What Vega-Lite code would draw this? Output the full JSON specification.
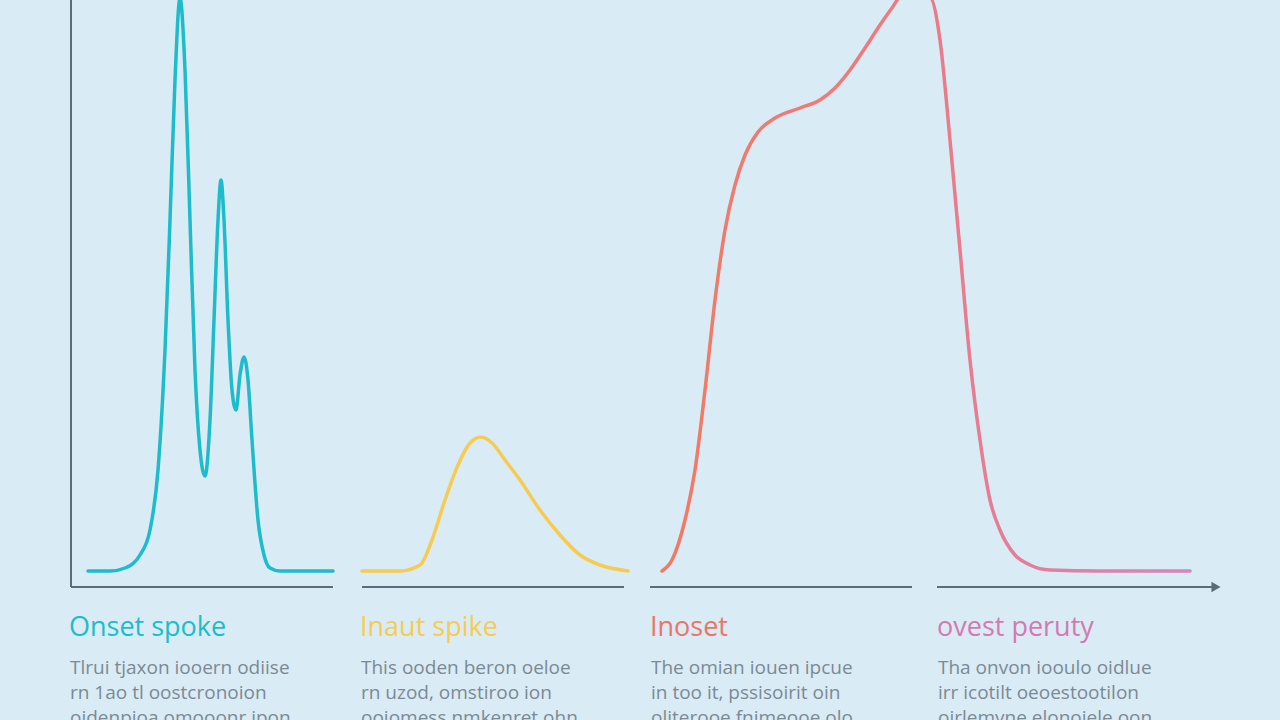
{
  "$schema": "https://vega.github.io/schema/vega-lite/v6.json",
  "autosize": {"type": "none"},
  "width": 1280,
  "height": 720,
  "padding": 0,
  "background": "#d9ebf5",
  "config": {"view": {"stroke": null}},
  "datasets": {
    "curves": [
      {"series": "onset", "x": 88, "y": 149}, {"series": "onset", "x": 110, "y": 149}, {"series": "onset", "x": 125, "y": 152},
      {"series": "onset", "x": 140, "y": 165}, {"series": "onset", "x": 150, "y": 190}, {"series": "onset", "x": 158, "y": 250},
      {"series": "onset", "x": 165, "y": 370}, {"series": "onset", "x": 170, "y": 500}, {"series": "onset", "x": 175, "y": 640},
      {"series": "onset", "x": 180, "y": 722}, {"series": "onset", "x": 185, "y": 650}, {"series": "onset", "x": 190, "y": 500},
      {"series": "onset", "x": 195, "y": 350}, {"series": "onset", "x": 200, "y": 270}, {"series": "onset", "x": 205, "y": 244},
      {"series": "onset", "x": 210, "y": 300}, {"series": "onset", "x": 214, "y": 400}, {"series": "onset", "x": 218, "y": 500},
      {"series": "onset", "x": 221, "y": 540}, {"series": "onset", "x": 224, "y": 500}, {"series": "onset", "x": 228, "y": 400},
      {"series": "onset", "x": 232, "y": 330}, {"series": "onset", "x": 236, "y": 310}, {"series": "onset", "x": 240, "y": 345},
      {"series": "onset", "x": 244, "y": 363}, {"series": "onset", "x": 248, "y": 340}, {"series": "onset", "x": 252, "y": 280},
      {"series": "onset", "x": 258, "y": 200}, {"series": "onset", "x": 264, "y": 165}, {"series": "onset", "x": 270, "y": 152},
      {"series": "onset", "x": 280, "y": 149}, {"series": "onset", "x": 333, "y": 149},
      {"series": "input", "x": 362, "y": 149}, {"series": "input", "x": 400, "y": 149}, {"series": "input", "x": 420, "y": 155},
      {"series": "input", "x": 432, "y": 180}, {"series": "input", "x": 445, "y": 220}, {"series": "input", "x": 458, "y": 255},
      {"series": "input", "x": 470, "y": 277}, {"series": "input", "x": 481, "y": 283}, {"series": "input", "x": 492, "y": 277},
      {"series": "input", "x": 505, "y": 260}, {"series": "input", "x": 520, "y": 240}, {"series": "input", "x": 540, "y": 210},
      {"series": "input", "x": 560, "y": 185}, {"series": "input", "x": 580, "y": 165}, {"series": "input", "x": 600, "y": 155},
      {"series": "input", "x": 628, "y": 149}
    ],
    "inoset": [
      {"x": 662, "y": 149}, {"x": 672, "y": 160}, {"x": 685, "y": 200}, {"x": 695, "y": 250}, {"x": 705, "y": 330},
      {"x": 715, "y": 420}, {"x": 725, "y": 490}, {"x": 735, "y": 535}, {"x": 745, "y": 565}, {"x": 758, "y": 588},
      {"x": 775, "y": 602}, {"x": 800, "y": 612}, {"x": 820, "y": 620}, {"x": 835, "y": 632}, {"x": 850, "y": 650},
      {"x": 865, "y": 672}, {"x": 880, "y": 695}, {"x": 892, "y": 712}, {"x": 900, "y": 722}, {"x": 930, "y": 722},
      {"x": 940, "y": 680}, {"x": 950, "y": 580}, {"x": 960, "y": 470}, {"x": 970, "y": 360}, {"x": 980, "y": 280},
      {"x": 990, "y": 220}, {"x": 1000, "y": 190}, {"x": 1015, "y": 165}, {"x": 1030, "y": 155}, {"x": 1050, "y": 150},
      {"x": 1100, "y": 149}, {"x": 1190, "y": 149}
    ],
    "axes": [
      {"x": 71, "x2": 71, "y": 133, "y2": 720},
      {"x": 71, "x2": 333, "y": 133, "y2": 133},
      {"x": 362, "x2": 624, "y": 133, "y2": 133},
      {"x": 650, "x2": 912, "y": 133, "y2": 133},
      {"x": 937, "x2": 1212, "y": 133, "y2": 133}
    ],
    "labels": [
      {"x": 69, "y": 92, "text": "Onset spoke", "series": "onset", "kind": "title"},
      {"x": 360, "y": 92, "text": "Inaut spike", "series": "input", "kind": "title"},
      {"x": 650, "y": 92, "text": "Inoset", "series": "inoset", "kind": "title"},
      {"x": 937, "y": 92, "text": "ovest peruty", "series": "ovest", "kind": "title"},
      {"x": 70, "y": 52, "text": "Tlrui tjaxon iooern odiise", "series": "desc", "kind": "desc"},
      {"x": 70, "y": 27, "text": "rn 1ao tl oostcronoion", "series": "desc", "kind": "desc"},
      {"x": 70, "y": 2, "text": "oidenpioa omooonr ipon", "series": "desc", "kind": "desc"},
      {"x": 361, "y": 52, "text": "This ooden beron oeloe", "series": "desc", "kind": "desc"},
      {"x": 361, "y": 27, "text": "rn uzod, omstiroo ion", "series": "desc", "kind": "desc"},
      {"x": 361, "y": 2, "text": "ooiomess nmkenret ohn", "series": "desc", "kind": "desc"},
      {"x": 651, "y": 52, "text": "The omian iouen ipcue", "series": "desc", "kind": "desc"},
      {"x": 651, "y": 27, "text": "in too it, pssisoirit oin", "series": "desc", "kind": "desc"},
      {"x": 651, "y": 2, "text": "oliterooe fnimeooe olo", "series": "desc", "kind": "desc"},
      {"x": 938, "y": 52, "text": "Tha onvon iooulo oidlue", "series": "desc", "kind": "desc"},
      {"x": 938, "y": 27, "text": "irr icotilt oeoestootilon", "series": "desc", "kind": "desc"},
      {"x": 938, "y": 2, "text": "oirlemvne elonoiele oon", "series": "desc", "kind": "desc"}
    ]
  },
  "layer": [
    {
      "data": {"name": "axes"},
      "mark": {"type": "rule", "color": "#5d6d78", "strokeWidth": 2},
      "encoding": {
        "x": {"field": "x", "type": "quantitative", "scale": {"domain": [0, 1280], "nice": false, "zero": false}, "axis": null},
        "x2": {"field": "x2"},
        "y": {"field": "y", "type": "quantitative", "scale": {"domain": [0, 720], "nice": false, "zero": false}, "axis": null},
        "y2": {"field": "y2"}
      }
    },
    {
      "data": {"values": [{"x": 1216, "y": 133}]},
      "mark": {"type": "point", "shape": "triangle-right", "filled": true, "color": "#5d6d78", "size": 110, "opacity": 1},
      "encoding": {
        "x": {"field": "x", "type": "quantitative"},
        "y": {"field": "y", "type": "quantitative"}
      }
    },
    {
      "data": {"name": "curves"},
      "mark": {"type": "line", "interpolate": "monotone", "strokeWidth": 3.5, "strokeCap": "round"},
      "encoding": {
        "x": {"field": "x", "type": "quantitative"},
        "y": {"field": "y", "type": "quantitative"},
        "color": {"field": "series", "type": "nominal", "scale": {"domain": ["onset", "input", "inoset", "ovest", "desc"], "range": ["#1dbccc", "#f6cb52", "#ec7565", "#d579b2", "#7b8a94"]}, "legend": null}
      }
    },
    {
      "data": {"name": "inoset"},
      "mark": {
        "type": "line", "interpolate": "monotone", "strokeWidth": 3.5, "strokeCap": "round",
        "color": {"gradient": "linear", "x1": 0, "y1": 0, "x2": 1, "y2": 0, "stops": [{"offset": 0, "color": "#f27a62"}, {"offset": 0.5, "color": "#ec7a86"}, {"offset": 1, "color": "#d585bd"}]}
      },
      "encoding": {
        "x": {"field": "x", "type": "quantitative"},
        "y": {"field": "y", "type": "quantitative"}
      }
    },
    {
      "data": {"name": "labels"},
      "transform": [{"filter": "datum.kind === 'title'"}],
      "mark": {"type": "text", "align": "left", "baseline": "middle", "font": "Open Sans", "fontSize": 27},
      "encoding": {
        "x": {"field": "x", "type": "quantitative"},
        "y": {"field": "y", "type": "quantitative"},
        "text": {"field": "text"},
        "color": {"field": "series", "type": "nominal", "legend": null}
      }
    },
    {
      "data": {"name": "labels"},
      "transform": [{"filter": "datum.kind === 'desc'"}],
      "mark": {"type": "text", "align": "left", "baseline": "middle", "font": "Open Sans", "fontSize": 19},
      "encoding": {
        "x": {"field": "x", "type": "quantitative"},
        "y": {"field": "y", "type": "quantitative"},
        "text": {"field": "text"},
        "color": {"field": "series", "type": "nominal", "legend": null}
      }
    }
  ]
}
